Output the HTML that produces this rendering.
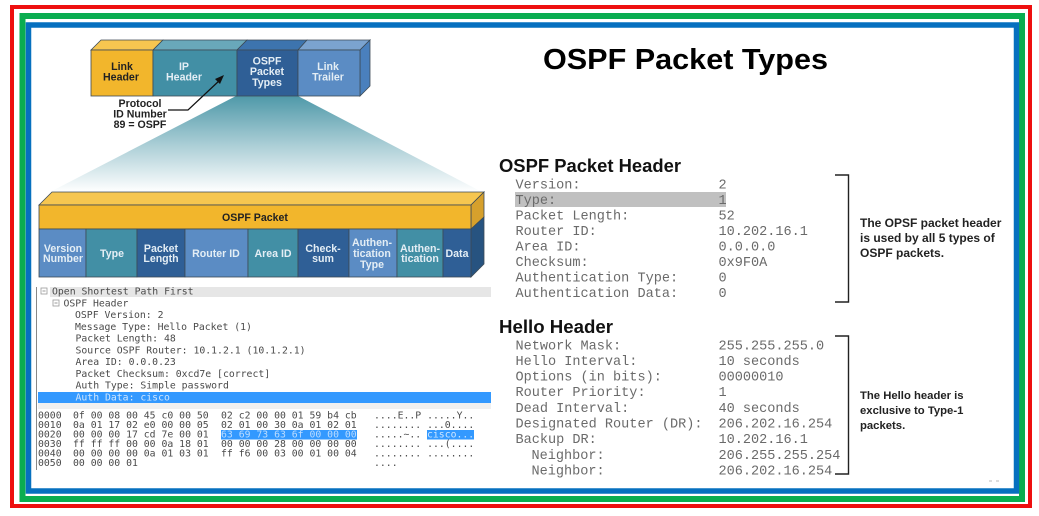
<!DOCTYPE html>
<html>
<head>
<meta charset="utf-8">
<style>
html,body{margin:0;padding:0;background:#fff;width:1039px;height:516px;overflow:hidden}
svg{display:block}
text{white-space:pre}
.s{font-family:"Liberation Sans",sans-serif;font-weight:bold}
.w{fill:#e4eef5;font-size:10.6px;text-anchor:middle}
.k{fill:#222;font-size:10.6px;text-anchor:middle}
.m{font-family:"DejaVu Sans Mono",monospace;font-size:9.8px;fill:#4a4a4a}
.l{font-family:"Liberation Mono",monospace;font-size:13.55px;fill:#6a6a6a}
.e{stroke:#3c4a55;stroke-width:.8}
.b{filter:blur(.35px)}
</style>
</head>
<body>
<svg width="1039" height="516" viewBox="0 0 1039 516" xmlns="http://www.w3.org/2000/svg">
<defs>
<linearGradient id="g" x1="0" y1="0" x2="0" y2="1">
<stop offset="0" stop-color="#4f99a9"/><stop offset=".5" stop-color="#a9cdd5"/><stop offset="1" stop-color="#ffffff"/>
</linearGradient>
</defs>
<rect width="1039" height="516" fill="#fff"/>
<!-- frames -->
<rect x="12" y="7" width="1018" height="499" fill="none" stroke="#ee0f0f" stroke-width="4"/>
<rect x="22.500" y="16" width="999.500" height="483" fill="none" stroke="#0aad50" stroke-width="6"/>
<rect x="28.500" y="25" width="988" height="466" fill="none" stroke="#0670bf" stroke-width="5.500"/>

<g class="b">
<!-- title -->
<text x="543" y="69" font-family="Liberation Sans,sans-serif" font-weight="bold" font-size="29" fill="#000" textLength="285" lengthAdjust="spacingAndGlyphs">OSPF Packet Types</text>

<!-- funnel -->
<polygon points="236,96 298,96 482,192 50,192" fill="url(#g)"/>

<!-- top packet -->
<polygon points="91,50 101,40 163,40 153,50" fill="#f6c650" class="e"/>
<polygon points="153,50 163,40 247,40 237,50" fill="#69a8ba" class="e"/>
<polygon points="237,50 247,40 307,40 298,50" fill="#3d74ae" class="e"/>
<polygon points="298,50 307,40 370,40 360,50" fill="#7ba3cf" class="e"/>
<polygon points="360,50 370,40 370,86 360,96" fill="#4a80bd" class="e"/>
<rect x="91" y="50" width="62" height="46" fill="#f2b62c" class="e"/>
<rect x="153" y="50" width="84" height="46" fill="#428fa5" class="e"/>
<rect x="237" y="50" width="61" height="46" fill="#2f5f96" class="e"/>
<rect x="298" y="50" width="62" height="46" fill="#5b8cc4" class="e"/>
<text class="s k" x="122" y="70">Link</text>
<text class="s k" x="121" y="80.500">Header</text>
<text class="s w" x="184" y="70">IP</text>
<text class="s w" x="184" y="80.500">Header</text>
<text class="s w" x="267" y="64.500">OSPF</text>
<text class="s w" x="267" y="75">Packet</text>
<text class="s w" x="267" y="86">Types</text>
<text class="s w" x="328" y="70">Link</text>
<text class="s w" x="328" y="80.500">Trailer</text>
<text class="s k" x="140" y="107">Protocol</text>
<text class="s k" x="140" y="117.500">ID Number</text>
<text class="s k" x="140" y="128">89 = OSPF</text>
<polyline points="168,110 188,110 220,80" fill="none" stroke="#111" stroke-width="1.200"/>
<polygon points="224,75 215,79 220,84" fill="#111"/>

<!-- lower packet -->
<polygon points="39,205 52,192 484,192 471,205" fill="#f6c650" class="e"/>
<polygon points="471,205 484,192 484,217 471,229" fill="#d6a02c" class="e"/>
<polygon points="471,229 484,217 484,264 471,277" fill="#275380" class="e"/>
<rect x="39" y="205" width="432" height="24" fill="#f2b62c" class="e"/>
<text class="s k" x="255" y="221">OSPF Packet</text>
<g class="e">
<rect x="39" y="229" width="47" height="48" fill="#5b8cc4"/>
<rect x="86" y="229" width="51" height="48" fill="#428fa5"/>
<rect x="137" y="229" width="48" height="48" fill="#2f5f96"/>
<rect x="185" y="229" width="63" height="48" fill="#5b8cc4"/>
<rect x="248" y="229" width="50" height="48" fill="#428fa5"/>
<rect x="298" y="229" width="51" height="48" fill="#2f5f96"/>
<rect x="349" y="229" width="48" height="48" fill="#5b8cc4"/>
<rect x="397" y="229" width="46" height="48" fill="#428fa5"/>
<rect x="443" y="229" width="28" height="48" fill="#2f5f96"/>
</g>
<text class="s w" x="63" y="252">Version</text>
<text class="s w" x="63" y="262">Number</text>
<text class="s w" x="112" y="257">Type</text>
<text class="s w" x="161" y="252">Packet</text>
<text class="s w" x="161" y="262">Length</text>
<text class="s w" x="216" y="257">Router ID</text>
<text class="s w" x="273" y="257">Area ID</text>
<text class="s w" x="323" y="252">Check-</text>
<text class="s w" x="323" y="262">sum</text>
<text class="s w" x="372" y="246">Authen-</text>
<text class="s w" x="372" y="257">tication</text>
<text class="s w" x="372" y="268">Type</text>
<text class="s w" x="420" y="252">Authen-</text>
<text class="s w" x="420" y="262">tication</text>
<text class="s w" x="457" y="257">Data</text>

<!-- capture -->
<rect x="36" y="287" width="1" height="183" fill="#888"/>
<rect x="50" y="287" width="441" height="10" fill="#e6e6e6"/>
<rect x="38" y="392" width="453" height="11" fill="#3399ff"/>
<rect x="38" y="403" width="453" height="6" fill="#f0f0f0"/>
<rect x="221" y="430" width="136" height="9.500" fill="#3399ff"/>
<rect x="427" y="430" width="47" height="9.500" fill="#3399ff"/>
<rect x="41" y="288" width="6" height="6" fill="none" stroke="#999" stroke-width=".8"/>
<rect x="53" y="300" width="6" height="6" fill="none" stroke="#999" stroke-width=".8"/>
<path d="M42.500 291h3M54.500 303h3" stroke="#777" stroke-width=".8"/>
<text class="m" x="52" y="294.500">Open Shortest Path First</text>
<text class="m" x="63.500" y="306.500">OSPF Header</text>
<text class="m" x="75" y="318">OSPF Version: 2</text>
<text class="m" x="75" y="330">Message Type: Hello Packet (1)</text>
<text class="m" x="75.500" y="341.500">Packet Length: 48</text>
<text class="m" x="75.500" y="353.500">Source OSPF Router: 10.1.2.1 (10.1.2.1)</text>
<text class="m" x="75.500" y="365">Area ID: 0.0.0.23</text>
<text class="m" x="75.500" y="377">Packet Checksum: 0xcd7e [correct]</text>
<text class="m" x="75.500" y="388.500">Auth Type: Simple password</text>
<text class="m" x="75.500" y="400.500" style="fill:#cfe6ff">Auth Data: cisco</text>
<text class="m" x="38" y="418.500">0000</text><text class="m" x="73" y="418.500">0f 00 08 00 45 c0 00 50</text><text class="m" x="221" y="418.500">02 c2 00 00 01 59 b4 cb</text><text class="m" x="374" y="418.500">....E..P .....Y..</text>
<text class="m" x="38" y="428">0010</text><text class="m" x="73" y="428">0a 01 17 02 e0 00 00 05</text><text class="m" x="221" y="428">02 01 00 30 0a 01 02 01</text><text class="m" x="374" y="428">........ ...0....</text>
<text class="m" x="38" y="437.500">0020</text><text class="m" x="73" y="437.500">00 00 00 17 cd 7e 00 01</text><text class="m" x="221" y="437.500" style="fill:#bcdcff">63 69 73 63 6f 00 00 00</text><text class="m" x="374" y="437.500">.....~.. </text><text class="m" x="427" y="437.500" style="fill:#cfe6ff">cisco...</text>
<text class="m" x="38" y="447">0030</text><text class="m" x="73" y="447">ff ff ff 00 00 0a 18 01</text><text class="m" x="221" y="447">00 00 00 28 00 00 00 00</text><text class="m" x="374" y="447">........ ...(....</text>
<text class="m" x="38" y="456.500">0040</text><text class="m" x="73" y="456.500">00 00 00 00 0a 01 03 01</text><text class="m" x="221" y="456.500">ff f6 00 03 00 01 00 04</text><text class="m" x="374" y="456.500">........ ........</text>
<text class="m" x="38" y="466">0050</text><text class="m" x="73" y="466">00 00 00 01</text><text class="m" x="374" y="466">....</text>

<!-- OSPF packet header -->
<text x="499" y="172" font-family="Liberation Sans,sans-serif" font-weight="bold" font-size="18" fill="#111" textLength="182" lengthAdjust="spacingAndGlyphs">OSPF Packet Header</text>
<rect x="515" y="192" width="211" height="15" fill="#c0c0c0"/>
<text class="l" x="515.500" y="188.500">Version:</text><text class="l" x="718.500" y="188.500">2</text>
<text class="l" x="515.500" y="204">Type:</text><text class="l" x="718.500" y="204">1</text>
<text class="l" x="515.500" y="219.500">Packet Length:</text><text class="l" x="718.500" y="219.500">52</text>
<text class="l" x="515.500" y="235">Router ID:</text><text class="l" x="718.500" y="235">10.202.16.1</text>
<text class="l" x="515.500" y="250.500">Area ID:</text><text class="l" x="718.500" y="250.500">0.0.0.0</text>
<text class="l" x="515.500" y="266">Checksum:</text><text class="l" x="718.500" y="266">0x9F0A</text>
<text class="l" x="515.500" y="281.500">Authentication Type:</text><text class="l" x="718.500" y="281.500">0</text>
<text class="l" x="515.500" y="297">Authentication Data:</text><text class="l" x="718.500" y="297">0</text>
<polyline points="835,175 848.500,175 848.500,302 835,302" fill="none" stroke="#222" stroke-width="1.400"/>
<text class="s" x="860" y="227" font-size="12" fill="#222">The OPSF packet header</text>
<text class="s" x="860" y="242" font-size="12" fill="#222">is used by all 5 types of</text>
<text class="s" x="860" y="257" font-size="12" fill="#222">OSPF packets.</text>

<!-- Hello header -->
<text x="499" y="333" font-family="Liberation Sans,sans-serif" font-weight="bold" font-size="18" fill="#111" textLength="114" lengthAdjust="spacingAndGlyphs">Hello Header</text>
<text class="l" x="515.500" y="349.500">Network Mask:</text><text class="l" x="718.500" y="349.500">255.255.255.0</text>
<text class="l" x="515.500" y="365">Hello Interval:</text><text class="l" x="718.500" y="365">10 seconds</text>
<text class="l" x="515.500" y="380.500">Options (in bits):</text><text class="l" x="718.500" y="380.500">00000010</text>
<text class="l" x="515.500" y="396">Router Priority:</text><text class="l" x="718.500" y="396">1</text>
<text class="l" x="515.500" y="412">Dead Interval:</text><text class="l" x="718.500" y="412">40 seconds</text>
<text class="l" x="515.500" y="427.500">Designated Router (DR):</text><text class="l" x="718.500" y="427.500">206.202.16.254</text>
<text class="l" x="515.500" y="443">Backup DR:</text><text class="l" x="718.500" y="443">10.202.16.1</text>
<text class="l" x="531.500" y="459">Neighbor:</text><text class="l" x="718.500" y="459">206.255.255.254</text>
<text class="l" x="531.500" y="474.500">Neighbor:</text><text class="l" x="718.500" y="474.500">206.202.16.254</text>
<polyline points="835,336 848.500,336 848.500,474 835,474" fill="none" stroke="#222" stroke-width="1.400"/>
<text class="s" x="860" y="399" font-size="11.300" fill="#222">The Hello header is</text>
<text class="s" x="860" y="414" font-size="11.300" fill="#222">exclusive to Type-1</text>
<text class="s" x="860" y="429" font-size="11.300" fill="#222">packets.</text>
<path d="M989 481h3M996 481h3" stroke="#bbb" stroke-width="1"/>
</g>
</svg>
</body>
</html>
